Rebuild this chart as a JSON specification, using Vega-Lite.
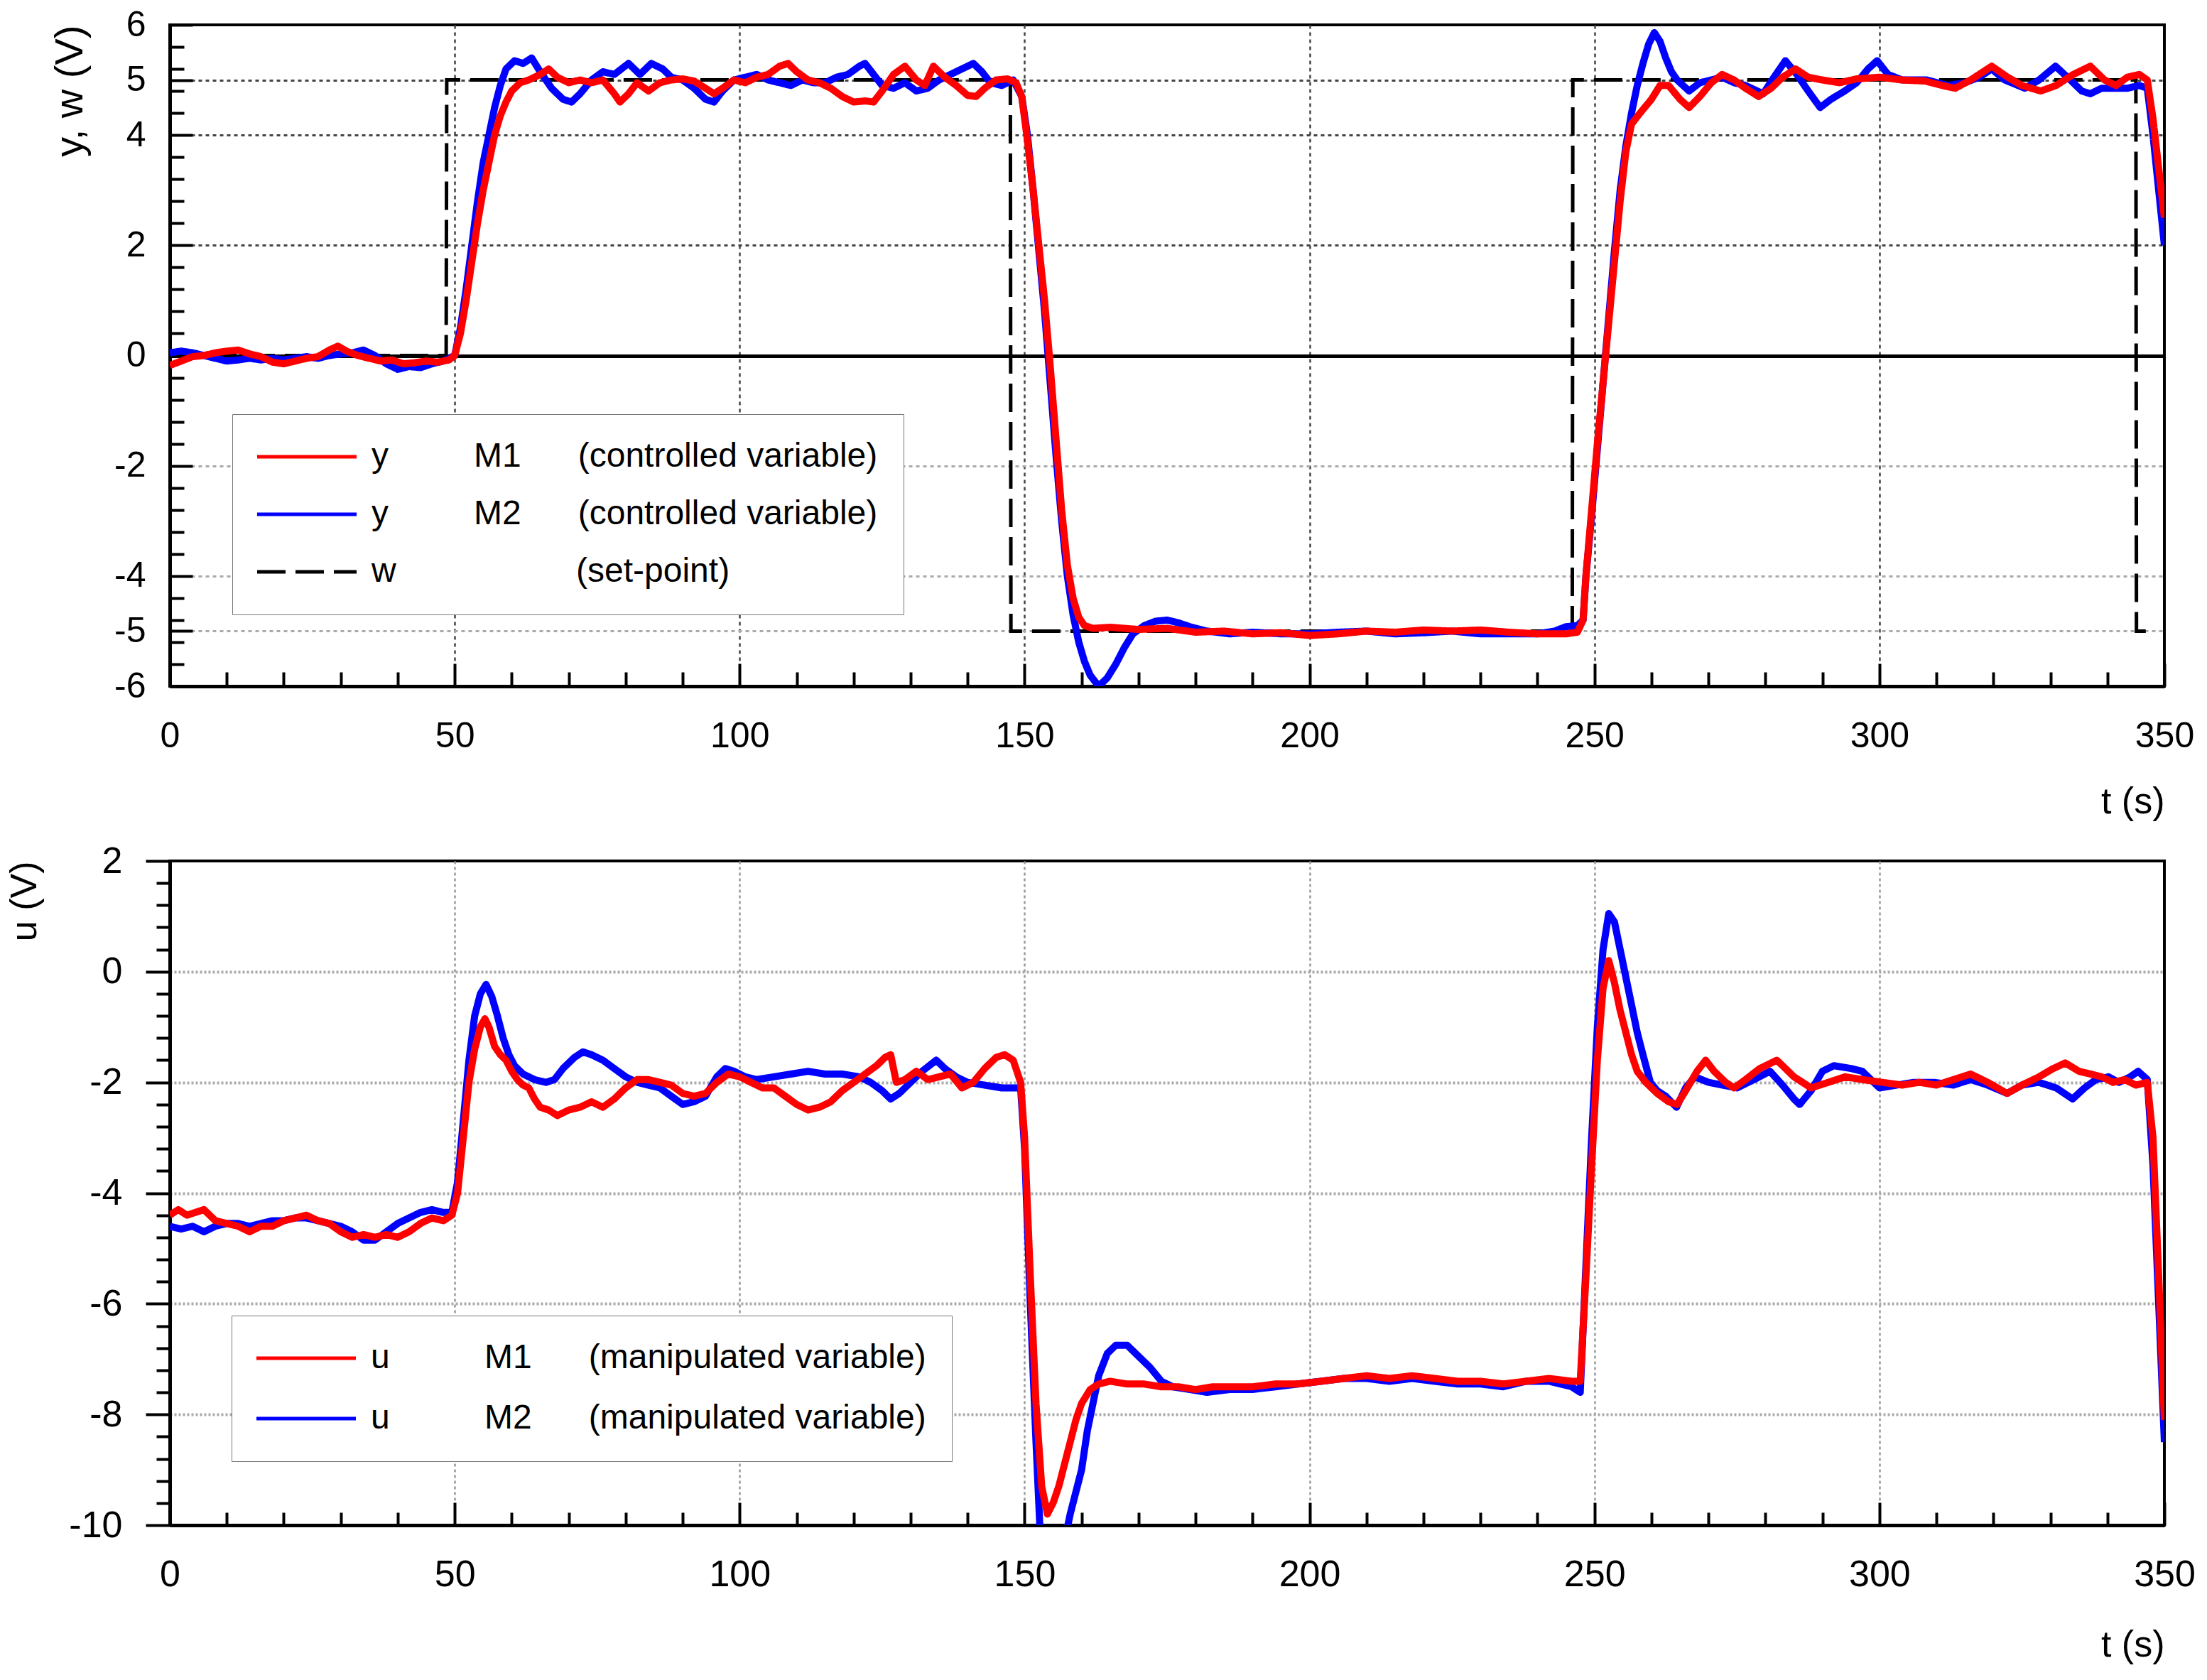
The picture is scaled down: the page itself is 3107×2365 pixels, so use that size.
{
"$schema": "https://vega.github.io/schema/vega-lite/v6.json",
"background": "white",
"padding": {"left": 6, "top": 8, "right": 10, "bottom": 5},
"config": {
  "font": "Liberation Sans",
  "view": {"stroke": "black", "strokeWidth": 4},
  "concat": {"spacing": 28},
  "axis": {"labelFont": "Liberation Sans", "titleFont": "Liberation Sans", "labelColor": "black", "titleColor": "black", "titleFontWeight": "normal", "tickColor": "black", "tickWidth": 4, "domainColor": "black", "domainWidth": 5, "labelFlush": false, "labelOverlap": false},
  "legend": {"labelFont": "Liberation Sans", "labelFontSize": 48, "labelColor": "black", "labelLimit": 3000, "symbolType": "M-5,0H5", "symbolSize": 784, "symbolStrokeWidth": 5, "symbolOffset": 45, "labelOffset": 67, "rowPadding": 33, "padding": 36, "strokeColor": "#777777", "fillColor": "white", "orient": "none"}
},
"datasets": {
"top": [
{"t":0,"v":0,"s":"w"},{"t":48.5,"v":0,"s":"w"},{"t":48.6,"v":5,"s":"w"},{"t":147.5,"v":5,"s":"w"},{"t":147.6,"v":-5,"s":"w"},{"t":246.1,"v":-5,"s":"w"},{"t":246.2,"v":5,"s":"w"},{"t":345,"v":5,"s":"w"},{"t":345.1,"v":-5,"s":"w"},{"t":347.5,"v":-5,"s":"w"},
{"t":0,"v":0.05,"s":"yM2"},{"t":2,"v":0.08,"s":"yM2"},{"t":4,"v":0.05,"s":"yM2"},{"t":6,"v":0.0,"s":"yM2"},{"t":8,"v":-0.05,"s":"yM2"},{"t":10,"v":-0.1,"s":"yM2"},{"t":12,"v":-0.08,"s":"yM2"},{"t":14,"v":-0.05,"s":"yM2"},{"t":16,"v":-0.08,"s":"yM2"},{"t":18,"v":-0.05,"s":"yM2"},{"t":20,"v":-0.08,"s":"yM2"},{"t":22,"v":-0.05,"s":"yM2"},{"t":24,"v":-0.02,"s":"yM2"},{"t":26,"v":-0.05,"s":"yM2"},{"t":28,"v":0.0,"s":"yM2"},{"t":30,"v":0.03,"s":"yM2"},{"t":32,"v":0.05,"s":"yM2"},{"t":34,"v":0.1,"s":"yM2"},{"t":36,"v":0.0,"s":"yM2"},{"t":38,"v":-0.15,"s":"yM2"},{"t":40,"v":-0.25,"s":"yM2"},{"t":42,"v":-0.2,"s":"yM2"},{"t":44,"v":-0.22,"s":"yM2"},{"t":46,"v":-0.15,"s":"yM2"},{"t":48,"v":-0.1,"s":"yM2"},{"t":50,"v":0.0,"s":"yM2"},
{"t":51,"v":0.5,"s":"yM2"},{"t":52,"v":1.2,"s":"yM2"},{"t":53,"v":2.0,"s":"yM2"},{"t":54,"v":2.8,"s":"yM2"},{"t":55,"v":3.5,"s":"yM2"},{"t":56,"v":4.0,"s":"yM2"},{"t":57,"v":4.5,"s":"yM2"},{"t":58,"v":4.9,"s":"yM2"},{"t":59,"v":5.2,"s":"yM2"},{"t":60.5,"v":5.35,"s":"yM2"},{"t":62,"v":5.3,"s":"yM2"},{"t":63.5,"v":5.4,"s":"yM2"},{"t":65,"v":5.15,"s":"yM2"},{"t":67,"v":4.85,"s":"yM2"},{"t":69,"v":4.65,"s":"yM2"},{"t":70.5,"v":4.6,"s":"yM2"},{"t":72,"v":4.75,"s":"yM2"},{"t":74,"v":5.0,"s":"yM2"},{"t":76,"v":5.15,"s":"yM2"},{"t":78,"v":5.1,"s":"yM2"},{"t":80.5,"v":5.3,"s":"yM2"},{"t":82.5,"v":5.1,"s":"yM2"},{"t":84.5,"v":5.3,"s":"yM2"},{"t":86.5,"v":5.2,"s":"yM2"},{"t":88,"v":5.05,"s":"yM2"},{"t":90,"v":5.0,"s":"yM2"},{"t":92,"v":4.85,"s":"yM2"},{"t":94,"v":4.65,"s":"yM2"},{"t":95.5,"v":4.6,"s":"yM2"},{"t":97,"v":4.8,"s":"yM2"},{"t":99,"v":5.0,"s":"yM2"},{"t":101,"v":5.05,"s":"yM2"},{"t":103,"v":5.1,"s":"yM2"},{"t":105,"v":5.0,"s":"yM2"},{"t":107,"v":4.95,"s":"yM2"},{"t":109,"v":4.9,"s":"yM2"},{"t":111,"v":5.0,"s":"yM2"},{"t":113,"v":4.95,"s":"yM2"},{"t":115,"v":4.95,"s":"yM2"},{"t":117,"v":5.05,"s":"yM2"},{"t":119,"v":5.1,"s":"yM2"},{"t":121,"v":5.25,"s":"yM2"},{"t":122,"v":5.3,"s":"yM2"},{"t":123.5,"v":5.1,"s":"yM2"},{"t":125,"v":4.9,"s":"yM2"},{"t":127,"v":4.85,"s":"yM2"},{"t":129,"v":4.95,"s":"yM2"},{"t":131,"v":4.8,"s":"yM2"},{"t":133,"v":4.85,"s":"yM2"},{"t":135,"v":5.0,"s":"yM2"},{"t":137,"v":5.1,"s":"yM2"},{"t":139,"v":5.2,"s":"yM2"},{"t":141,"v":5.3,"s":"yM2"},{"t":142.5,"v":5.15,"s":"yM2"},{"t":144,"v":4.95,"s":"yM2"},{"t":146,"v":4.9,"s":"yM2"},{"t":148,"v":5.0,"s":"yM2"},{"t":149.5,"v":4.7,"s":"yM2"},{"t":150.5,"v":4.0,"s":"yM2"},{"t":151.5,"v":3.0,"s":"yM2"},{"t":152.5,"v":1.9,"s":"yM2"},{"t":153.5,"v":0.8,"s":"yM2"},{"t":154.5,"v":-0.5,"s":"yM2"},{"t":155.5,"v":-1.8,"s":"yM2"},{"t":156.5,"v":-3.0,"s":"yM2"},{"t":157.5,"v":-4.0,"s":"yM2"},{"t":158.5,"v":-4.7,"s":"yM2"},{"t":159.5,"v":-5.2,"s":"yM2"},{"t":160.5,"v":-5.55,"s":"yM2"},{"t":161.5,"v":-5.8,"s":"yM2"},{"t":163,"v":-6.0,"s":"yM2"},{"t":164.5,"v":-5.85,"s":"yM2"},{"t":166,"v":-5.6,"s":"yM2"},{"t":167.5,"v":-5.3,"s":"yM2"},{"t":169,"v":-5.05,"s":"yM2"},{"t":171,"v":-4.9,"s":"yM2"},{"t":173,"v":-4.82,"s":"yM2"},{"t":175,"v":-4.8,"s":"yM2"},{"t":177,"v":-4.85,"s":"yM2"},{"t":179,"v":-4.92,"s":"yM2"},{"t":182,"v":-5.0,"s":"yM2"},{"t":186,"v":-5.05,"s":"yM2"},{"t":190,"v":-5.02,"s":"yM2"},{"t":195,"v":-5.05,"s":"yM2"},{"t":200,"v":-5.05,"s":"yM2"},{"t":205,"v":-5.02,"s":"yM2"},{"t":210,"v":-5.0,"s":"yM2"},{"t":215,"v":-5.05,"s":"yM2"},{"t":220,"v":-5.03,"s":"yM2"},{"t":225,"v":-5.0,"s":"yM2"},{"t":230,"v":-5.05,"s":"yM2"},{"t":235,"v":-5.05,"s":"yM2"},{"t":240,"v":-5.05,"s":"yM2"},{"t":243,"v":-5.0,"s":"yM2"},{"t":245,"v":-4.92,"s":"yM2"},{"t":247,"v":-4.9,"s":"yM2"},{"t":248,"v":-4.8,"s":"yM2"},
{"t":248.5,"v":-4.0,"s":"yM2"},{"t":249.5,"v":-2.9,"s":"yM2"},{"t":250.5,"v":-1.7,"s":"yM2"},{"t":251.5,"v":-0.5,"s":"yM2"},{"t":252.5,"v":0.7,"s":"yM2"},{"t":253.5,"v":1.9,"s":"yM2"},{"t":254.5,"v":3.0,"s":"yM2"},{"t":255.5,"v":3.8,"s":"yM2"},{"t":256.5,"v":4.4,"s":"yM2"},{"t":257.5,"v":4.9,"s":"yM2"},{"t":258.5,"v":5.3,"s":"yM2"},{"t":259.5,"v":5.65,"s":"yM2"},{"t":260.5,"v":5.86,"s":"yM2"},{"t":261.5,"v":5.7,"s":"yM2"},{"t":262.5,"v":5.4,"s":"yM2"},{"t":263.5,"v":5.15,"s":"yM2"},{"t":264.5,"v":5.0,"s":"yM2"},{"t":266.6,"v":4.8,"s":"yM2"},{"t":268.5,"v":4.95,"s":"yM2"},{"t":270.5,"v":5.0,"s":"yM2"},{"t":272.4,"v":5.05,"s":"yM2"},{"t":274.5,"v":4.95,"s":"yM2"},{"t":276.5,"v":4.9,"s":"yM2"},{"t":279.6,"v":4.75,"s":"yM2"},{"t":281.5,"v":5.05,"s":"yM2"},{"t":283.5,"v":5.35,"s":"yM2"},{"t":285.5,"v":5.1,"s":"yM2"},{"t":287.5,"v":4.8,"s":"yM2"},{"t":289.6,"v":4.5,"s":"yM2"},{"t":291.5,"v":4.65,"s":"yM2"},{"t":293.9,"v":4.8,"s":"yM2"},{"t":296,"v":4.95,"s":"yM2"},{"t":298,"v":5.2,"s":"yM2"},{"t":299.6,"v":5.35,"s":"yM2"},{"t":301.5,"v":5.1,"s":"yM2"},{"t":304,"v":5.0,"s":"yM2"},{"t":308.3,"v":5.0,"s":"yM2"},{"t":312,"v":4.9,"s":"yM2"},{"t":315,"v":4.95,"s":"yM2"},{"t":317.5,"v":5.05,"s":"yM2"},{"t":319.7,"v":5.2,"s":"yM2"},{"t":322,"v":5.0,"s":"yM2"},{"t":325.5,"v":4.85,"s":"yM2"},{"t":328,"v":5.0,"s":"yM2"},{"t":330.9,"v":5.25,"s":"yM2"},{"t":333.5,"v":5.0,"s":"yM2"},{"t":335.5,"v":4.8,"s":"yM2"},{"t":337,"v":4.75,"s":"yM2"},{"t":339,"v":4.85,"s":"yM2"},{"t":341.5,"v":4.85,"s":"yM2"},{"t":343.5,"v":4.85,"s":"yM2"},{"t":345.6,"v":4.9,"s":"yM2"},{"t":347,"v":4.85,"s":"yM2"},{"t":348,"v":4.0,"s":"yM2"},{"t":349,"v":3.0,"s":"yM2"},{"t":350,"v":2.0,"s":"yM2"},
{"t":0,"v":-0.18,"s":"yM1"},{"t":2,"v":-0.1,"s":"yM1"},{"t":4,"v":-0.02,"s":"yM1"},{"t":6,"v":0.0,"s":"yM1"},{"t":8,"v":0.05,"s":"yM1"},{"t":10,"v":0.08,"s":"yM1"},{"t":12,"v":0.1,"s":"yM1"},{"t":14,"v":0.03,"s":"yM1"},{"t":16,"v":-0.02,"s":"yM1"},{"t":18,"v":-0.12,"s":"yM1"},{"t":20,"v":-0.15,"s":"yM1"},{"t":22,"v":-0.1,"s":"yM1"},{"t":24,"v":-0.05,"s":"yM1"},{"t":26,"v":-0.02,"s":"yM1"},{"t":28,"v":0.1,"s":"yM1"},{"t":29.5,"v":0.17,"s":"yM1"},{"t":31,"v":0.08,"s":"yM1"},{"t":33,"v":0.0,"s":"yM1"},{"t":35,"v":-0.05,"s":"yM1"},{"t":37,"v":-0.1,"s":"yM1"},{"t":39,"v":-0.08,"s":"yM1"},{"t":41,"v":-0.15,"s":"yM1"},{"t":43,"v":-0.13,"s":"yM1"},{"t":45,"v":-0.1,"s":"yM1"},{"t":47,"v":-0.12,"s":"yM1"},{"t":49,"v":-0.08,"s":"yM1"},{"t":50,"v":0.0,"s":"yM1"},
{"t":51,"v":0.4,"s":"yM1"},{"t":52,"v":1.0,"s":"yM1"},{"t":53,"v":1.7,"s":"yM1"},{"t":54,"v":2.4,"s":"yM1"},{"t":55,"v":3.0,"s":"yM1"},{"t":56,"v":3.5,"s":"yM1"},{"t":57,"v":4.0,"s":"yM1"},{"t":58,"v":4.35,"s":"yM1"},{"t":59,"v":4.6,"s":"yM1"},{"t":60,"v":4.8,"s":"yM1"},{"t":61.5,"v":4.95,"s":"yM1"},{"t":63,"v":5.0,"s":"yM1"},{"t":65,"v":5.1,"s":"yM1"},{"t":66.5,"v":5.2,"s":"yM1"},{"t":68,"v":5.05,"s":"yM1"},{"t":70,"v":4.95,"s":"yM1"},{"t":72,"v":5.0,"s":"yM1"},{"t":74,"v":4.95,"s":"yM1"},{"t":76,"v":5.0,"s":"yM1"},{"t":78,"v":4.75,"s":"yM1"},{"t":79,"v":4.6,"s":"yM1"},{"t":80.5,"v":4.75,"s":"yM1"},{"t":82,"v":4.95,"s":"yM1"},{"t":84,"v":4.8,"s":"yM1"},{"t":86,"v":4.95,"s":"yM1"},{"t":88,"v":5.0,"s":"yM1"},{"t":90,"v":5.02,"s":"yM1"},{"t":92,"v":4.98,"s":"yM1"},{"t":94,"v":4.85,"s":"yM1"},{"t":95.5,"v":4.75,"s":"yM1"},{"t":97,"v":4.85,"s":"yM1"},{"t":99,"v":5.0,"s":"yM1"},{"t":101,"v":4.95,"s":"yM1"},{"t":103,"v":5.05,"s":"yM1"},{"t":105,"v":5.1,"s":"yM1"},{"t":107,"v":5.25,"s":"yM1"},{"t":108.5,"v":5.3,"s":"yM1"},{"t":110,"v":5.15,"s":"yM1"},{"t":112,"v":5.0,"s":"yM1"},{"t":114,"v":4.95,"s":"yM1"},{"t":116,"v":4.85,"s":"yM1"},{"t":118,"v":4.7,"s":"yM1"},{"t":120,"v":4.6,"s":"yM1"},{"t":122,"v":4.62,"s":"yM1"},{"t":123.5,"v":4.6,"s":"yM1"},{"t":125,"v":4.8,"s":"yM1"},{"t":127,"v":5.1,"s":"yM1"},{"t":129,"v":5.25,"s":"yM1"},{"t":131,"v":5.0,"s":"yM1"},{"t":132.5,"v":4.9,"s":"yM1"},{"t":134,"v":5.25,"s":"yM1"},{"t":136,"v":5.05,"s":"yM1"},{"t":138,"v":4.9,"s":"yM1"},{"t":140,"v":4.72,"s":"yM1"},{"t":141.5,"v":4.7,"s":"yM1"},{"t":143,"v":4.85,"s":"yM1"},{"t":145,"v":5.0,"s":"yM1"},{"t":147,"v":5.02,"s":"yM1"},{"t":148.5,"v":4.95,"s":"yM1"},{"t":149.5,"v":4.7,"s":"yM1"},{"t":150.5,"v":3.9,"s":"yM1"},{"t":151.5,"v":3.0,"s":"yM1"},{"t":152.5,"v":2.0,"s":"yM1"},{"t":153.5,"v":1.0,"s":"yM1"},{"t":154.5,"v":-0.2,"s":"yM1"},{"t":155.5,"v":-1.5,"s":"yM1"},{"t":156.5,"v":-2.8,"s":"yM1"},{"t":157.5,"v":-3.8,"s":"yM1"},{"t":158.5,"v":-4.4,"s":"yM1"},{"t":159.5,"v":-4.75,"s":"yM1"},{"t":160.5,"v":-4.9,"s":"yM1"},{"t":162,"v":-4.95,"s":"yM1"},{"t":165,"v":-4.93,"s":"yM1"},{"t":170,"v":-4.97,"s":"yM1"},{"t":175,"v":-4.95,"s":"yM1"},{"t":180,"v":-5.02,"s":"yM1"},{"t":185,"v":-5.0,"s":"yM1"},{"t":190,"v":-5.05,"s":"yM1"},{"t":195,"v":-5.03,"s":"yM1"},{"t":200,"v":-5.08,"s":"yM1"},{"t":205,"v":-5.05,"s":"yM1"},{"t":210,"v":-5.0,"s":"yM1"},{"t":215,"v":-5.02,"s":"yM1"},{"t":220,"v":-4.98,"s":"yM1"},{"t":225,"v":-5.0,"s":"yM1"},{"t":230,"v":-4.98,"s":"yM1"},{"t":235,"v":-5.02,"s":"yM1"},{"t":240,"v":-5.05,"s":"yM1"},{"t":245,"v":-5.05,"s":"yM1"},{"t":247,"v":-5.02,"s":"yM1"},{"t":248,"v":-4.8,"s":"yM1"},
{"t":248.5,"v":-4.0,"s":"yM1"},{"t":249.5,"v":-2.8,"s":"yM1"},{"t":250.5,"v":-1.6,"s":"yM1"},{"t":251.5,"v":-0.5,"s":"yM1"},{"t":252.5,"v":0.6,"s":"yM1"},{"t":253.5,"v":1.7,"s":"yM1"},{"t":254.5,"v":2.8,"s":"yM1"},{"t":255.5,"v":3.7,"s":"yM1"},{"t":256.5,"v":4.2,"s":"yM1"},{"t":258,"v":4.4,"s":"yM1"},{"t":260,"v":4.65,"s":"yM1"},{"t":261.5,"v":4.9,"s":"yM1"},{"t":263,"v":4.9,"s":"yM1"},{"t":265,"v":4.65,"s":"yM1"},{"t":266.6,"v":4.5,"s":"yM1"},{"t":268.5,"v":4.7,"s":"yM1"},{"t":270.5,"v":4.95,"s":"yM1"},{"t":272.4,"v":5.1,"s":"yM1"},{"t":274.5,"v":5.0,"s":"yM1"},{"t":276.5,"v":4.85,"s":"yM1"},{"t":278.8,"v":4.7,"s":"yM1"},{"t":281,"v":4.85,"s":"yM1"},{"t":283,"v":5.05,"s":"yM1"},{"t":285.3,"v":5.2,"s":"yM1"},{"t":287.5,"v":5.05,"s":"yM1"},{"t":290,"v":5.0,"s":"yM1"},{"t":293,"v":4.95,"s":"yM1"},{"t":296,"v":5.02,"s":"yM1"},{"t":300,"v":5.05,"s":"yM1"},{"t":304,"v":5.0,"s":"yM1"},{"t":308,"v":4.98,"s":"yM1"},{"t":311,"v":4.9,"s":"yM1"},{"t":313.3,"v":4.85,"s":"yM1"},{"t":316,"v":5.0,"s":"yM1"},{"t":319.7,"v":5.25,"s":"yM1"},{"t":322.5,"v":5.05,"s":"yM1"},{"t":325,"v":4.9,"s":"yM1"},{"t":328.3,"v":4.8,"s":"yM1"},{"t":331,"v":4.9,"s":"yM1"},{"t":334,"v":5.1,"s":"yM1"},{"t":337,"v":5.25,"s":"yM1"},{"t":339.5,"v":5.0,"s":"yM1"},{"t":341.5,"v":4.9,"s":"yM1"},{"t":343.5,"v":5.05,"s":"yM1"},{"t":345.6,"v":5.1,"s":"yM1"},{"t":347,"v":5.0,"s":"yM1"},{"t":348,"v":4.3,"s":"yM1"},{"t":349,"v":3.4,"s":"yM1"},{"t":350,"v":2.5,"s":"yM1"}
],
"bot": [
{"t":0,"v":-4.6,"s":"uM2"},{"t":2,"v":-4.65,"s":"uM2"},{"t":4,"v":-4.6,"s":"uM2"},{"t":6,"v":-4.7,"s":"uM2"},{"t":8,"v":-4.6,"s":"uM2"},{"t":10,"v":-4.55,"s":"uM2"},{"t":12,"v":-4.55,"s":"uM2"},{"t":14,"v":-4.6,"s":"uM2"},{"t":16,"v":-4.55,"s":"uM2"},{"t":18,"v":-4.5,"s":"uM2"},{"t":20,"v":-4.5,"s":"uM2"},{"t":22,"v":-4.45,"s":"uM2"},{"t":24,"v":-4.45,"s":"uM2"},{"t":26,"v":-4.5,"s":"uM2"},{"t":28,"v":-4.55,"s":"uM2"},{"t":30,"v":-4.6,"s":"uM2"},{"t":32,"v":-4.7,"s":"uM2"},{"t":34,"v":-4.85,"s":"uM2"},{"t":36,"v":-4.85,"s":"uM2"},{"t":38,"v":-4.7,"s":"uM2"},{"t":40,"v":-4.55,"s":"uM2"},{"t":42,"v":-4.45,"s":"uM2"},{"t":44,"v":-4.35,"s":"uM2"},{"t":46,"v":-4.3,"s":"uM2"},{"t":48,"v":-4.35,"s":"uM2"},{"t":49.5,"v":-4.35,"s":"uM2"},{"t":50.5,"v":-3.8,"s":"uM2"},{"t":51.5,"v":-2.7,"s":"uM2"},{"t":52.5,"v":-1.6,"s":"uM2"},{"t":53.5,"v":-0.8,"s":"uM2"},{"t":54.5,"v":-0.4,"s":"uM2"},{"t":55.5,"v":-0.23,"s":"uM2"},{"t":56.5,"v":-0.45,"s":"uM2"},{"t":57.5,"v":-0.8,"s":"uM2"},{"t":58.5,"v":-1.2,"s":"uM2"},{"t":59.5,"v":-1.5,"s":"uM2"},{"t":60.5,"v":-1.7,"s":"uM2"},{"t":62,"v":-1.85,"s":"uM2"},{"t":64,"v":-1.95,"s":"uM2"},{"t":66,"v":-2.0,"s":"uM2"},{"t":67.5,"v":-1.95,"s":"uM2"},{"t":69,"v":-1.75,"s":"uM2"},{"t":71,"v":-1.55,"s":"uM2"},{"t":72.5,"v":-1.45,"s":"uM2"},{"t":74,"v":-1.5,"s":"uM2"},{"t":76,"v":-1.6,"s":"uM2"},{"t":78,"v":-1.75,"s":"uM2"},{"t":80,"v":-1.9,"s":"uM2"},{"t":82,"v":-2.0,"s":"uM2"},{"t":84,"v":-2.05,"s":"uM2"},{"t":86,"v":-2.1,"s":"uM2"},{"t":88,"v":-2.25,"s":"uM2"},{"t":90,"v":-2.4,"s":"uM2"},{"t":92,"v":-2.35,"s":"uM2"},{"t":94,"v":-2.25,"s":"uM2"},{"t":96,"v":-1.9,"s":"uM2"},{"t":97.5,"v":-1.75,"s":"uM2"},{"t":99,"v":-1.8,"s":"uM2"},{"t":101,"v":-1.9,"s":"uM2"},{"t":103,"v":-1.95,"s":"uM2"},{"t":106,"v":-1.9,"s":"uM2"},{"t":109,"v":-1.85,"s":"uM2"},{"t":112,"v":-1.8,"s":"uM2"},{"t":115,"v":-1.85,"s":"uM2"},{"t":118,"v":-1.85,"s":"uM2"},{"t":121,"v":-1.9,"s":"uM2"},{"t":123,"v":-2.0,"s":"uM2"},{"t":125,"v":-2.15,"s":"uM2"},{"t":126.5,"v":-2.3,"s":"uM2"},{"t":128,"v":-2.2,"s":"uM2"},{"t":130,"v":-2.0,"s":"uM2"},{"t":132,"v":-1.8,"s":"uM2"},{"t":134.5,"v":-1.6,"s":"uM2"},{"t":136,"v":-1.75,"s":"uM2"},{"t":138,"v":-1.9,"s":"uM2"},{"t":140,"v":-2.0,"s":"uM2"},{"t":143,"v":-2.05,"s":"uM2"},{"t":146,"v":-2.1,"s":"uM2"},{"t":148,"v":-2.1,"s":"uM2"},{"t":149.3,"v":-2.1,"s":"uM2"},{"t":150,"v":-3.2,"s":"uM2"},{"t":151,"v":-6.0,"s":"uM2"},{"t":152,"v":-8.5,"s":"uM2"},{"t":152.8,"v":-10.3,"s":"uM2"},{"t":157,"v":-10.3,"s":"uM2"},{"t":158,"v":-9.8,"s":"uM2"},{"t":159,"v":-9.4,"s":"uM2"},{"t":160,"v":-9.0,"s":"uM2"},{"t":161,"v":-8.3,"s":"uM2"},{"t":162,"v":-7.8,"s":"uM2"},{"t":163,"v":-7.3,"s":"uM2"},{"t":164.5,"v":-6.9,"s":"uM2"},{"t":166,"v":-6.75,"s":"uM2"},{"t":168,"v":-6.75,"s":"uM2"},{"t":170,"v":-6.95,"s":"uM2"},{"t":172,"v":-7.15,"s":"uM2"},{"t":174,"v":-7.4,"s":"uM2"},{"t":176,"v":-7.5,"s":"uM2"},{"t":179,"v":-7.55,"s":"uM2"},{"t":182,"v":-7.6,"s":"uM2"},{"t":186,"v":-7.55,"s":"uM2"},{"t":190,"v":-7.55,"s":"uM2"},{"t":194,"v":-7.5,"s":"uM2"},{"t":198,"v":-7.45,"s":"uM2"},{"t":202,"v":-7.4,"s":"uM2"},{"t":206,"v":-7.35,"s":"uM2"},{"t":210,"v":-7.35,"s":"uM2"},{"t":214,"v":-7.4,"s":"uM2"},{"t":218,"v":-7.35,"s":"uM2"},{"t":222,"v":-7.4,"s":"uM2"},{"t":226,"v":-7.45,"s":"uM2"},{"t":230,"v":-7.45,"s":"uM2"},{"t":234,"v":-7.5,"s":"uM2"},{"t":238,"v":-7.4,"s":"uM2"},{"t":242,"v":-7.4,"s":"uM2"},{"t":246,"v":-7.5,"s":"uM2"},{"t":247.5,"v":-7.6,"s":"uM2"},{"t":248.5,"v":-5.3,"s":"uM2"},{"t":249.5,"v":-3.0,"s":"uM2"},{"t":250.5,"v":-1.0,"s":"uM2"},{"t":251.5,"v":0.4,"s":"uM2"},{"t":252.5,"v":1.05,"s":"uM2"},{"t":253.5,"v":0.9,"s":"uM2"},{"t":254.5,"v":0.4,"s":"uM2"},{"t":255.5,"v":-0.1,"s":"uM2"},{"t":256.5,"v":-0.6,"s":"uM2"},{"t":257.5,"v":-1.1,"s":"uM2"},{"t":258.5,"v":-1.5,"s":"uM2"},{"t":259.8,"v":-2.0,"s":"uM2"},{"t":261,"v":-2.15,"s":"uM2"},{"t":262.5,"v":-2.25,"s":"uM2"},{"t":264.4,"v":-2.45,"s":"uM2"},{"t":266,"v":-2.1,"s":"uM2"},{"t":267.6,"v":-1.9,"s":"uM2"},{"t":270,"v":-2.0,"s":"uM2"},{"t":272.5,"v":-2.05,"s":"uM2"},{"t":275,"v":-2.1,"s":"uM2"},{"t":278,"v":-1.95,"s":"uM2"},{"t":280.8,"v":-1.8,"s":"uM2"},{"t":283,"v":-2.05,"s":"uM2"},{"t":285,"v":-2.3,"s":"uM2"},{"t":286,"v":-2.4,"s":"uM2"},{"t":288,"v":-2.15,"s":"uM2"},{"t":290,"v":-1.8,"s":"uM2"},{"t":292,"v":-1.7,"s":"uM2"},{"t":295,"v":-1.75,"s":"uM2"},{"t":297,"v":-1.8,"s":"uM2"},{"t":300,"v":-2.1,"s":"uM2"},{"t":303,"v":-2.05,"s":"uM2"},{"t":306,"v":-2.0,"s":"uM2"},{"t":309.6,"v":-2.0,"s":"uM2"},{"t":313,"v":-2.05,"s":"uM2"},{"t":316,"v":-1.95,"s":"uM2"},{"t":319,"v":-2.05,"s":"uM2"},{"t":322.4,"v":-2.2,"s":"uM2"},{"t":325,"v":-2.05,"s":"uM2"},{"t":328,"v":-2.0,"s":"uM2"},{"t":331,"v":-2.1,"s":"uM2"},{"t":333.9,"v":-2.3,"s":"uM2"},{"t":336,"v":-2.1,"s":"uM2"},{"t":338,"v":-1.95,"s":"uM2"},{"t":340.2,"v":-1.9,"s":"uM2"},{"t":342,"v":-2.0,"s":"uM2"},{"t":344,"v":-1.9,"s":"uM2"},{"t":345.4,"v":-1.8,"s":"uM2"},{"t":347,"v":-1.95,"s":"uM2"},{"t":348,"v":-3.5,"s":"uM2"},{"t":349,"v":-6.0,"s":"uM2"},{"t":350,"v":-8.5,"s":"uM2"},
{"t":0,"v":-4.4,"s":"uM1"},{"t":1.5,"v":-4.3,"s":"uM1"},{"t":3,"v":-4.4,"s":"uM1"},{"t":4.5,"v":-4.35,"s":"uM1"},{"t":6,"v":-4.3,"s":"uM1"},{"t":8,"v":-4.5,"s":"uM1"},{"t":10,"v":-4.55,"s":"uM1"},{"t":12,"v":-4.6,"s":"uM1"},{"t":14,"v":-4.7,"s":"uM1"},{"t":16,"v":-4.6,"s":"uM1"},{"t":18,"v":-4.6,"s":"uM1"},{"t":20,"v":-4.5,"s":"uM1"},{"t":22,"v":-4.45,"s":"uM1"},{"t":24,"v":-4.4,"s":"uM1"},{"t":26,"v":-4.5,"s":"uM1"},{"t":28,"v":-4.55,"s":"uM1"},{"t":30,"v":-4.7,"s":"uM1"},{"t":32,"v":-4.8,"s":"uM1"},{"t":34,"v":-4.75,"s":"uM1"},{"t":36,"v":-4.8,"s":"uM1"},{"t":38,"v":-4.75,"s":"uM1"},{"t":40,"v":-4.8,"s":"uM1"},{"t":42,"v":-4.7,"s":"uM1"},{"t":44,"v":-4.55,"s":"uM1"},{"t":46,"v":-4.45,"s":"uM1"},{"t":48,"v":-4.5,"s":"uM1"},{"t":49.5,"v":-4.4,"s":"uM1"},{"t":50.5,"v":-4.0,"s":"uM1"},{"t":51.5,"v":-3.0,"s":"uM1"},{"t":52.5,"v":-2.0,"s":"uM1"},{"t":53.5,"v":-1.4,"s":"uM1"},{"t":54.5,"v":-1.0,"s":"uM1"},{"t":55.3,"v":-0.85,"s":"uM1"},{"t":56,"v":-1.0,"s":"uM1"},{"t":57,"v":-1.35,"s":"uM1"},{"t":58,"v":-1.5,"s":"uM1"},{"t":59,"v":-1.6,"s":"uM1"},{"t":60,"v":-1.8,"s":"uM1"},{"t":61,"v":-1.95,"s":"uM1"},{"t":62,"v":-2.05,"s":"uM1"},{"t":63,"v":-2.1,"s":"uM1"},{"t":64,"v":-2.3,"s":"uM1"},{"t":65,"v":-2.45,"s":"uM1"},{"t":66.5,"v":-2.5,"s":"uM1"},{"t":68,"v":-2.6,"s":"uM1"},{"t":70,"v":-2.5,"s":"uM1"},{"t":72,"v":-2.45,"s":"uM1"},{"t":74,"v":-2.35,"s":"uM1"},{"t":76,"v":-2.45,"s":"uM1"},{"t":78,"v":-2.3,"s":"uM1"},{"t":80,"v":-2.1,"s":"uM1"},{"t":82,"v":-1.95,"s":"uM1"},{"t":84,"v":-1.95,"s":"uM1"},{"t":86,"v":-2.0,"s":"uM1"},{"t":88,"v":-2.05,"s":"uM1"},{"t":90,"v":-2.2,"s":"uM1"},{"t":92,"v":-2.25,"s":"uM1"},{"t":94,"v":-2.2,"s":"uM1"},{"t":96,"v":-2.0,"s":"uM1"},{"t":98,"v":-1.85,"s":"uM1"},{"t":100,"v":-1.9,"s":"uM1"},{"t":102,"v":-2.0,"s":"uM1"},{"t":104,"v":-2.1,"s":"uM1"},{"t":106,"v":-2.1,"s":"uM1"},{"t":108,"v":-2.25,"s":"uM1"},{"t":110,"v":-2.4,"s":"uM1"},{"t":112,"v":-2.5,"s":"uM1"},{"t":114,"v":-2.45,"s":"uM1"},{"t":116,"v":-2.35,"s":"uM1"},{"t":118,"v":-2.15,"s":"uM1"},{"t":120,"v":-2.0,"s":"uM1"},{"t":122,"v":-1.85,"s":"uM1"},{"t":124,"v":-1.7,"s":"uM1"},{"t":125.5,"v":-1.55,"s":"uM1"},{"t":126.5,"v":-1.5,"s":"uM1"},{"t":127.5,"v":-2.0,"s":"uM1"},{"t":129,"v":-1.95,"s":"uM1"},{"t":131,"v":-1.8,"s":"uM1"},{"t":133,"v":-1.95,"s":"uM1"},{"t":135,"v":-1.9,"s":"uM1"},{"t":137,"v":-1.85,"s":"uM1"},{"t":139,"v":-2.1,"s":"uM1"},{"t":141,"v":-2.0,"s":"uM1"},{"t":143,"v":-1.75,"s":"uM1"},{"t":145,"v":-1.55,"s":"uM1"},{"t":146.5,"v":-1.5,"s":"uM1"},{"t":148,"v":-1.6,"s":"uM1"},{"t":149.3,"v":-2.0,"s":"uM1"},{"t":150,"v":-3.0,"s":"uM1"},{"t":151,"v":-5.5,"s":"uM1"},{"t":152,"v":-7.8,"s":"uM1"},{"t":153,"v":-9.3,"s":"uM1"},{"t":154,"v":-9.8,"s":"uM1"},{"t":155,"v":-9.6,"s":"uM1"},{"t":156,"v":-9.3,"s":"uM1"},{"t":157,"v":-8.9,"s":"uM1"},{"t":158,"v":-8.5,"s":"uM1"},{"t":159,"v":-8.1,"s":"uM1"},{"t":160,"v":-7.8,"s":"uM1"},{"t":161.5,"v":-7.55,"s":"uM1"},{"t":163,"v":-7.45,"s":"uM1"},{"t":165,"v":-7.4,"s":"uM1"},{"t":168,"v":-7.45,"s":"uM1"},{"t":171,"v":-7.45,"s":"uM1"},{"t":174,"v":-7.5,"s":"uM1"},{"t":177,"v":-7.5,"s":"uM1"},{"t":180,"v":-7.55,"s":"uM1"},{"t":183,"v":-7.5,"s":"uM1"},{"t":186,"v":-7.5,"s":"uM1"},{"t":190,"v":-7.5,"s":"uM1"},{"t":194,"v":-7.45,"s":"uM1"},{"t":198,"v":-7.45,"s":"uM1"},{"t":202,"v":-7.4,"s":"uM1"},{"t":206,"v":-7.35,"s":"uM1"},{"t":210,"v":-7.3,"s":"uM1"},{"t":214,"v":-7.35,"s":"uM1"},{"t":218,"v":-7.3,"s":"uM1"},{"t":222,"v":-7.35,"s":"uM1"},{"t":226,"v":-7.4,"s":"uM1"},{"t":230,"v":-7.4,"s":"uM1"},{"t":234,"v":-7.45,"s":"uM1"},{"t":238,"v":-7.4,"s":"uM1"},{"t":242,"v":-7.35,"s":"uM1"},{"t":246,"v":-7.4,"s":"uM1"},{"t":247.5,"v":-7.4,"s":"uM1"},{"t":248.5,"v":-5.5,"s":"uM1"},{"t":249.5,"v":-3.5,"s":"uM1"},{"t":250.5,"v":-1.6,"s":"uM1"},{"t":251.5,"v":-0.3,"s":"uM1"},{"t":252.5,"v":0.2,"s":"uM1"},{"t":253.5,"v":-0.2,"s":"uM1"},{"t":254.5,"v":-0.7,"s":"uM1"},{"t":255.5,"v":-1.1,"s":"uM1"},{"t":256.5,"v":-1.5,"s":"uM1"},{"t":257.5,"v":-1.8,"s":"uM1"},{"t":259,"v":-2.0,"s":"uM1"},{"t":261,"v":-2.2,"s":"uM1"},{"t":263,"v":-2.35,"s":"uM1"},{"t":264.5,"v":-2.4,"s":"uM1"},{"t":266,"v":-2.15,"s":"uM1"},{"t":268,"v":-1.8,"s":"uM1"},{"t":269.5,"v":-1.6,"s":"uM1"},{"t":271,"v":-1.8,"s":"uM1"},{"t":273,"v":-2.0,"s":"uM1"},{"t":274.5,"v":-2.1,"s":"uM1"},{"t":276.5,"v":-1.95,"s":"uM1"},{"t":279,"v":-1.75,"s":"uM1"},{"t":282,"v":-1.6,"s":"uM1"},{"t":285,"v":-1.9,"s":"uM1"},{"t":288,"v":-2.1,"s":"uM1"},{"t":291,"v":-2.0,"s":"uM1"},{"t":294,"v":-1.9,"s":"uM1"},{"t":297,"v":-1.95,"s":"uM1"},{"t":300.5,"v":-2.0,"s":"uM1"},{"t":304,"v":-2.05,"s":"uM1"},{"t":307,"v":-2.0,"s":"uM1"},{"t":310,"v":-2.05,"s":"uM1"},{"t":313,"v":-1.95,"s":"uM1"},{"t":316,"v":-1.85,"s":"uM1"},{"t":319,"v":-2.0,"s":"uM1"},{"t":322.4,"v":-2.2,"s":"uM1"},{"t":325,"v":-2.05,"s":"uM1"},{"t":328,"v":-1.9,"s":"uM1"},{"t":330.5,"v":-1.75,"s":"uM1"},{"t":332.6,"v":-1.65,"s":"uM1"},{"t":335,"v":-1.8,"s":"uM1"},{"t":337,"v":-1.85,"s":"uM1"},{"t":339,"v":-1.9,"s":"uM1"},{"t":341,"v":-2.0,"s":"uM1"},{"t":343,"v":-1.95,"s":"uM1"},{"t":345,"v":-2.05,"s":"uM1"},{"t":347,"v":-2.0,"s":"uM1"},{"t":348,"v":-3.0,"s":"uM1"},{"t":349,"v":-5.5,"s":"uM1"},{"t":350,"v":-8.1,"s":"uM1"}
]
},
"vconcat": [
{
  "width": 2808, "height": 931,
  "data": {"name": "top"},
  "encoding": {
    "x": {"field": "t", "type": "quantitative", "scale": {"domain": [0, 350], "nice": false, "zero": false},
      "axis": {"title": "t (s)", "values": [0,10,20,30,40,50,60,70,80,90,100,110,120,130,140,150,160,170,180,190,200,210,220,230,240,250,260,270,280,290,300,310,320,330,340,350],
        "labelExpr": "datum.value % 50 == 0 ? '' + datum.value : ''",
        "tickSize": {"condition": {"test": "datum.value % 50 == 0", "value": -32}, "value": -20},
        "labelPadding": 77, "labelFontSize": 50,
        "grid": true,
        "gridColor": {"condition": {"test": "datum.value % 50 == 0 && datum.value > 0 && datum.value < 350", "value": "#444444"}, "value": "transparent"},
        "gridDash": [5, 5], "gridWidth": 2.5,
        "titleFontSize": 52, "titleAnchor": "end", "titlePadding": 30}},
    "y": {"field": "v", "type": "quantitative", "scale": {"domain": [-6, 6], "nice": false, "zero": false},
      "axis": {"title": "y, w (V)", "values": [6,5.6,5.2,5,4.8,4.4,4,3.6,3.2,2.8,2.4,2,1.6,1.2,0.8,0.4,0,-0.4,-0.8,-1.2,-1.6,-2,-2.4,-2.8,-3.2,-3.6,-4,-4.4,-4.8,-5,-5.2,-5.6,-6],
        "labelExpr": "indexof([6,5,4,2,0,-2,-4,-5,-6], datum.value) >= 0 ? '' + datum.value : ''",
        "tickSize": {"condition": {"test": "indexof([6,5,4,2,0,-2,-4,-5,-6], datum.value) >= 0", "value": -32}, "value": -20},
        "labelPadding": 66, "labelFontSize": 50,
        "grid": true,
        "gridColor": {"condition": [{"test": "datum.value == 0", "value": "black"}, {"test": "indexof([5,4,2], datum.value) >= 0", "value": "#444444"}, {"test": "indexof([-2,-4,-5], datum.value) >= 0", "value": "#aaaaaa"}], "value": "transparent"},
        "gridWidth": {"condition": {"test": "datum.value == 0", "value": 5}, "value": 3},
        "gridDash": {"condition": {"test": "datum.value == 0", "value": [1, 0]}, "value": [5, 5]},
        "titleFontSize": 56, "titleAnchor": "end", "titlePadding": 33}},
    "color": {"field": "s", "type": "nominal", "title": null, "scale": {"domain": ["yM1", "yM2", "w"], "range": ["#ff0000", "#0000ff", "#000000"]},
      "legend": {"orient": "none", "legendX": 88, "legendY": 548,
        "labelExpr": "datum.value == 'yM1' ? 'y\u00a0\u00a0\u00a0\u00a0\u00a0\u00a0\u00a0\u00a0\u00a0M1\u00a0\u00a0\u00a0\u00a0\u00a0\u00a0(controlled variable)' : datum.value == 'yM2' ? 'y\u00a0\u00a0\u00a0\u00a0\u00a0\u00a0\u00a0\u00a0\u00a0M2\u00a0\u00a0\u00a0\u00a0\u00a0\u00a0(controlled variable)' : 'w\u00a0\u00a0\u00a0\u00a0\u00a0\u00a0\u00a0\u00a0\u00a0\u00a0\u00a0\u00a0\u00a0\u00a0\u00a0\u00a0\u00a0\u00a0\u00a0(set-point)'"}},
    "strokeDash": {"field": "s", "type": "nominal", "title": null, "scale": {"domain": ["yM1", "yM2", "w"], "range": [[1, 0], [1, 0], [40, 14]]},
      "legend": {"orient": "none", "legendX": 88, "legendY": 548,
        "labelExpr": "datum.value == 'yM1' ? 'y\u00a0\u00a0\u00a0\u00a0\u00a0\u00a0\u00a0\u00a0\u00a0M1\u00a0\u00a0\u00a0\u00a0\u00a0\u00a0(controlled variable)' : datum.value == 'yM2' ? 'y\u00a0\u00a0\u00a0\u00a0\u00a0\u00a0\u00a0\u00a0\u00a0M2\u00a0\u00a0\u00a0\u00a0\u00a0\u00a0(controlled variable)' : 'w\u00a0\u00a0\u00a0\u00a0\u00a0\u00a0\u00a0\u00a0\u00a0\u00a0\u00a0\u00a0\u00a0\u00a0\u00a0\u00a0\u00a0\u00a0\u00a0(set-point)'"}}
  },
  "layer": [
    {"transform": [{"filter": "datum.s == 'w'"}], "mark": {"type": "line", "strokeWidth": 5, "clip": true}},
    {"transform": [{"filter": "datum.s == 'yM2'"}], "mark": {"type": "line", "strokeWidth": 10, "strokeJoin": "round", "clip": true}},
    {"transform": [{"filter": "datum.s == 'yM1'"}], "mark": {"type": "line", "strokeWidth": 10, "strokeJoin": "round", "clip": true}}
  ]
},
{
  "width": 2808, "height": 935,
  "data": {"name": "bot"},
  "encoding": {
    "x": {"field": "t", "type": "quantitative", "scale": {"domain": [0, 350], "nice": false, "zero": false},
      "axis": {"title": "t (s)", "values": [0,10,20,30,40,50,60,70,80,90,100,110,120,130,140,150,160,170,180,190,200,210,220,230,240,250,260,270,280,290,300,310,320,330,340,350],
        "labelExpr": "datum.value % 50 == 0 ? '' + datum.value : ''",
        "tickSize": {"condition": {"test": "datum.value % 50 == 0", "value": -32}, "value": -18},
        "labelPadding": 76, "labelFontSize": 52,
        "grid": true,
        "gridColor": {"condition": {"test": "datum.value % 50 == 0 && datum.value > 0 && datum.value < 350", "value": "#999999"}, "value": "transparent"},
        "gridDash": [4, 4], "gridWidth": 2.5,
        "titleFontSize": 52, "titleAnchor": "end", "titlePadding": 34}},
    "y": {"field": "v", "type": "quantitative", "scale": {"domain": [-10, 2], "nice": false, "zero": false},
      "axis": {"title": "u (V)", "values": [2,1.6,1.2,0.8,0.4,0,-0.4,-0.8,-1.2,-1.6,-2,-2.4,-2.8,-3.2,-3.6,-4,-4.4,-4.8,-5.2,-5.6,-6,-6.4,-6.8,-7.2,-7.6,-8,-8.4,-8.8,-9.2,-9.6,-10],
        "labelExpr": "datum.value % 2 == 0 ? '' + datum.value : ''",
        "tickSize": {"condition": {"test": "datum.value % 2 == 0", "value": 34}, "value": 19},
        "labelPadding": 33, "labelFontSize": 52,
        "grid": true,
        "gridColor": {"condition": {"test": "datum.value % 2 == 0 && datum.value < 2 && datum.value > -10", "value": "#aaaaaa"}, "value": "transparent"},
        "gridDash": [3, 3], "gridWidth": 4,
        "titleFontSize": 52, "titleAnchor": "end", "titlePadding": 35}},
    "color": {"field": "s", "type": "nominal", "title": null, "scale": {"domain": ["uM1", "uM2"], "range": ["#ff0000", "#0000ff"]},
      "legend": {"orient": "none", "legendX": 87, "legendY": 640, "rowPadding": 37,
        "labelExpr": "datum.value == 'uM1' ? 'u\u00a0\u00a0\u00a0\u00a0\u00a0\u00a0\u00a0\u00a0\u00a0\u00a0M1\u00a0\u00a0\u00a0\u00a0\u00a0\u00a0(manipulated variable)' : 'u\u00a0\u00a0\u00a0\u00a0\u00a0\u00a0\u00a0\u00a0\u00a0\u00a0M2\u00a0\u00a0\u00a0\u00a0\u00a0\u00a0(manipulated variable)'"}}
  },
  "layer": [
    {"transform": [{"filter": "datum.s == 'uM2'"}], "mark": {"type": "line", "strokeWidth": 10, "strokeJoin": "round", "clip": true}},
    {"transform": [{"filter": "datum.s == 'uM1'"}], "mark": {"type": "line", "strokeWidth": 10, "strokeJoin": "round", "clip": true}}
  ]
}
],
"resolve": {"scale": {"color": "independent", "strokeDash": "independent", "x": "independent", "y": "independent"}, "legend": {"color": "independent", "strokeDash": "independent"}}
}
